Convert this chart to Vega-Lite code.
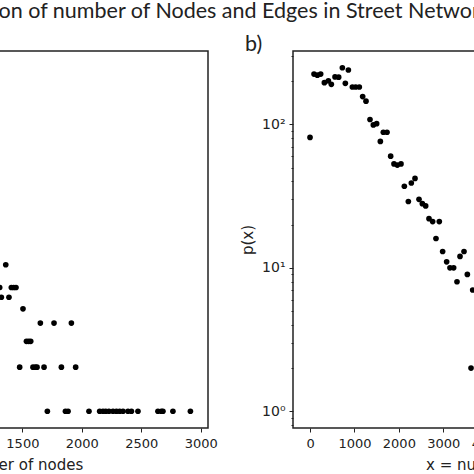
{
  "$schema": "https://vega.github.io/schema/vega-lite/v6.json",
  "background": "white",
  "padding": {"left": -173, "top": 1, "right": -250, "bottom": 0},
  "title": {
    "text": "Distribution of number of Nodes and Edges in Street Networks",
    "anchor": "start", "frame": "group", "dx": 82,
    "baseline": "alphabetic", "offset": -7,
    "font": "Lato", "fontSize": 21.5, "fontWeight": "normal", "color": "#222"
  },
  "config": {
    "view": {"stroke": "#222", "strokeWidth": 1.5},
    "axis": {
      "labelFont": "DejaVu Sans", "labelFontSize": 13, "labelColor": "#222",
      "titleFont": "DejaVu Sans", "titleFontSize": 15, "titleFontWeight": "normal", "titleColor": "#222",
      "tickColor": "#222", "tickSize": 4, "tickWidth": 1, "domain": false, "grid": false, "labelPadding": 4
    },
    "axisX": {"labelPadding": 5, "titlePadding": 7}
  },
  "datasets": {
    "nodes": [
      {"x": 1360, "y": 10},
      {"x": 1309, "y": 7}, {"x": 1407, "y": 7}, {"x": 1427, "y": 7}, {"x": 1446, "y": 7},
      {"x": 1323, "y": 6}, {"x": 1387, "y": 6},
      {"x": 1505, "y": 5},
      {"x": 1651, "y": 4}, {"x": 1766, "y": 4}, {"x": 1912, "y": 4},
      {"x": 1534, "y": 3}, {"x": 1553, "y": 3}, {"x": 1570, "y": 3},
      {"x": 1477, "y": 2}, {"x": 1589, "y": 2}, {"x": 1609, "y": 2}, {"x": 1623, "y": 2}, {"x": 1682, "y": 2}, {"x": 1828, "y": 2}, {"x": 1948, "y": 2},
      {"x": 1710, "y": 1}, {"x": 1862, "y": 1}, {"x": 1884, "y": 1}, {"x": 2060, "y": 1}, {"x": 2150, "y": 1}, {"x": 2178, "y": 1}, {"x": 2201, "y": 1}, {"x": 2228, "y": 1}, {"x": 2262, "y": 1}, {"x": 2291, "y": 1}, {"x": 2318, "y": 1}, {"x": 2346, "y": 1}, {"x": 2388, "y": 1}, {"x": 2417, "y": 1}, {"x": 2472, "y": 1}, {"x": 2640, "y": 1}, {"x": 2669, "y": 1}, {"x": 2682, "y": 1}, {"x": 2766, "y": 1}, {"x": 2913, "y": 1}
    ],
    "edges": [
      {"x": 0, "y": 81}, {"x": 90, "y": 224}, {"x": 165, "y": 220}, {"x": 240, "y": 224}, {"x": 323, "y": 195},
      {"x": 413, "y": 201}, {"x": 480, "y": 190}, {"x": 563, "y": 214}, {"x": 645, "y": 213}, {"x": 728, "y": 248},
      {"x": 795, "y": 193}, {"x": 863, "y": 239}, {"x": 953, "y": 182}, {"x": 1028, "y": 182}, {"x": 1110, "y": 182},
      {"x": 1185, "y": 156}, {"x": 1260, "y": 145}, {"x": 1350, "y": 108}, {"x": 1425, "y": 99}, {"x": 1500, "y": 101},
      {"x": 1583, "y": 76}, {"x": 1650, "y": 88}, {"x": 1733, "y": 88}, {"x": 1815, "y": 60}, {"x": 1890, "y": 53},
      {"x": 1965, "y": 52}, {"x": 2048, "y": 53}, {"x": 2123, "y": 37}, {"x": 2213, "y": 29}, {"x": 2280, "y": 39},
      {"x": 2363, "y": 42}, {"x": 2453, "y": 30}, {"x": 2528, "y": 28}, {"x": 2603, "y": 27}, {"x": 2678, "y": 22},
      {"x": 2760, "y": 21}, {"x": 2835, "y": 16}, {"x": 2910, "y": 21}, {"x": 2985, "y": 13}, {"x": 3075, "y": 11},
      {"x": 3150, "y": 10}, {"x": 3233, "y": 10}, {"x": 3308, "y": 8}, {"x": 3376, "y": 12}, {"x": 3466, "y": 13},
      {"x": 3541, "y": 9}, {"x": 3624, "y": 2}, {"x": 3661, "y": 7}
    ]
  },
  "bounds": "flush",
  "spacing": 85,
  "hconcat": [
    {
      "data": {"name": "nodes"},
      "width": 380, "height": 377,
      "mark": {"type": "circle", "size": 32, "opacity": 1, "color": "black"},
      "encoding": {
        "x": {"field": "x", "type": "quantitative",
              "scale": {"domain": [-135, 3061], "nice": false, "zero": false},
              "axis": {"values": [0, 500, 1000, 1500, 2000, 2500, 3000], "format": "d", "title": "Number of nodes"}},
        "y": {"field": "y", "type": "quantitative",
              "scale": {"type": "log", "domain": [0.769, 287.6], "nice": false},
              "axis": null}
      }
    },
    {
      "data": {"name": "edges"},
      "width": 424, "height": 377,
      "title": {"text": "b)", "anchor": "start", "frame": "group", "dx": -48, "baseline": "alphabetic", "offset": -21,
                "font": "Lato", "fontSize": 21.5, "fontWeight": "normal", "color": "#222"},
      "mark": {"type": "circle", "size": 32, "opacity": 1, "color": "black"},
      "encoding": {
        "x": {"field": "x", "type": "quantitative",
              "scale": {"domain": [-383, 9160], "nice": false, "zero": false},
              "axis": {"values": [0, 1000, 2000, 3000, 4000, 5000, 6000, 7000, 8000, 9000], "format": "d", "title": "x = number of edges"}},
        "y": {"field": "y", "type": "quantitative",
              "scale": {"type": "log", "domain": [0.765, 324.3], "nice": false},
              "axis": {
                "values": [0.8, 0.9, 1, 2, 3, 4, 5, 6, 7, 8, 9, 10, 20, 30, 40, 50, 60, 70, 80, 90, 100, 200, 300],
                "labelExpr": "datum.value == 1 ? '10⁰' : datum.value == 10 ? '10¹' : datum.value == 100 ? '10²' : ''",
                "labelFontSize": 14,
                "tickSize": {"condition": {"test": "datum.value == 1 || datum.value == 10 || datum.value == 100", "value": 4}, "value": 2},
                "title": "p(x)", "titlePadding": 6
              }}
      }
    }
  ]
}
